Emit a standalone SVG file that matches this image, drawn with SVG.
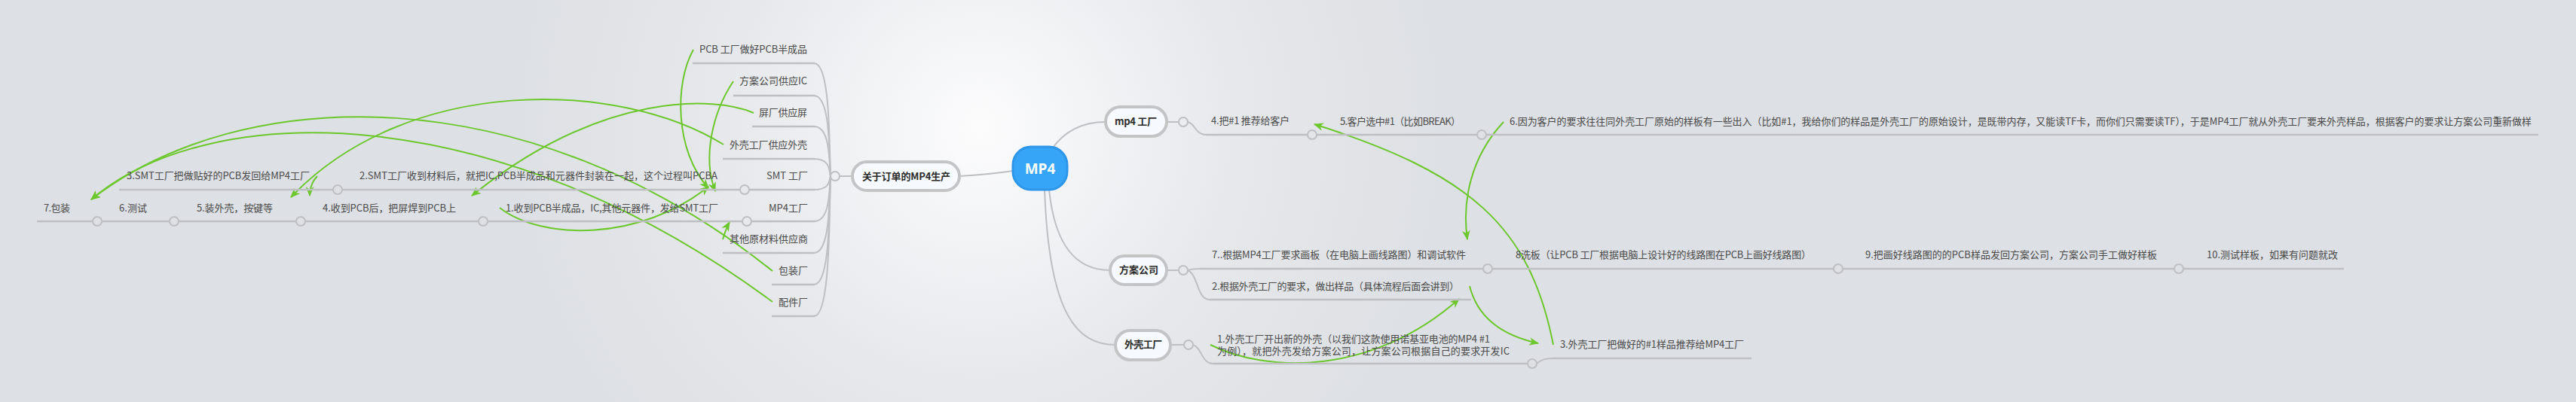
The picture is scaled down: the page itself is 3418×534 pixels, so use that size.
<svg xmlns="http://www.w3.org/2000/svg" width="3418" height="534" viewBox="0 0 3418 534">
<defs>
<radialGradient id="bg" gradientUnits="userSpaceOnUse" cx="1300" cy="170" r="620">
<stop offset="0" stop-color="#FCFCFD"/>
<stop offset="0.55" stop-color="#E6E8EB"/>
<stop offset="1" stop-color="#DDE0E4"/>
</radialGradient>
<marker id="arr" markerUnits="userSpaceOnUse" viewBox="0 0 12 10" markerWidth="13" markerHeight="11" refX="11" refY="5" orient="auto">
<path d="M0,0 L12,5 L0,10 L3.5,5 z" fill="#6CC72C"/>
</marker>
<style>
.t{font-family:"Noto Sans CJK SC","Noto Sans",sans-serif;font-size:13px;fill:#4A4A4A}
.b{font-family:"Noto Sans CJK SC","Noto Sans",sans-serif;font-size:13px;font-weight:bold;fill:#2B2B2B}
.ul{stroke:#BEBFC2;stroke-width:2.5;fill:none}
.br{stroke:#BEBFC2;stroke-width:2;fill:none}
.cc{stroke:#BEBFC2;stroke-width:2;fill:none}
.pill{fill:#F6F9FE;stroke:#C3C4C6;stroke-width:4}
.rel{stroke:#6CC72C;stroke-width:2;fill:none}
</style>
</defs>
<rect x="0" y="0" width="3418" height="534" fill="url(#bg)"/>

<g id="connectors">
<g id="branches">
<path class="br" d="M1273,234 Q1310,232 1344,227"/>
<path class="br" d="M1395,199 Q1420,162 1467,162"/>
<path class="br" d="M1392,252 C1400,330 1430,359 1473,359"/>
<path class="br" d="M1386,252 C1392,420 1430,458 1480,458"/>
<path class="br" d="M1114,234 L1131,234"/>
<path class="br" d="M1102,234 C1100,189 1102,84 1080,84"/>
<path class="br" d="M1102,234 C1100,202 1102,127 1080,127"/>
<path class="br" d="M1102,234 C1100,214 1102,168 1080,168"/>
<path class="br" d="M1102,234 C1100,227 1102,211 1080,211"/>
<path class="br" d="M1102,234 C1100,239 1102,252 1080,252"/>
<path class="br" d="M1102,234 C1100,252 1102,294 1080,294"/>
<path class="br" d="M1102,234 C1100,264 1102,336 1080,336"/>
<path class="br" d="M1102,234 C1100,278 1102,378 1080,378"/>
<path class="br" d="M1102,234 C1100,290 1102,420 1080,420"/>
<path class="br" d="M1548,162 L1564,162"/>
<path class="br" d="M1576,162 C1586,164 1586,179 1600,179"/>
<path class="br" d="M1548,359 L1564,359"/>
<path class="br" d="M1576,359 C1582,357 1585,357 1592,357"/>
<path class="br" d="M1576,359 C1590,365 1588,398 1605,398"/>
<path class="br" d="M1553,458 L1571,458"/>
<path class="br" d="M1583,458 C1595,462 1594,483 1610,483"/>
<path class="br" d="M2039,483 C2045,478 2050,476 2060,476"/>
</g>
<g id="relationships">
<path class="rel" marker-end="url(#arr)" d="M920,66 C895,110 895,200 940,250"/>
<path class="rel" marker-end="url(#arr)" d="M973,108 C945,150 932,210 949,254"/>
<path class="rel" marker-end="url(#arr)" d="M1000,150 C950,128 800,120 626,260"/>
<path class="rel" marker-end="url(#arr)" d="M960,192 C820,105 540,100 386,262"/>
<path class="rel" marker-end="url(#arr)" d="M1025,360 C700,100 320,110 121,265"/>
<path class="rel" marker-end="url(#arr)" d="M1025,401 C660,130 280,130 121,265"/>
<path class="rel" marker-end="url(#arr)" d="M663,276 C720,320 850,320 940,248"/>
<path class="rel" marker-end="url(#arr)" d="M959,318 C962,308 964,302 968,295"/>
<path class="rel" marker-end="url(#arr)" d="M421,234 C413,242 411,250 411,260"/>
<path class="rel" marker-end="url(#arr)" d="M1995,162 C1950,210 1940,270 1947,318"/>
<path class="rel" marker-end="url(#arr)" d="M2061,458 C2030,300 1950,230 1744,165"/>
<path class="rel" marker-end="url(#arr)" d="M1950,380 C1960,420 1990,445 2041,456"/>
<path class="rel" marker-end="url(#arr)" d="M1606,458 C1680,495 1820,500 1936,397"/>
</g>
</g>

<g id="n-mp4">
<rect x="1344" y="195" width="72" height="57" rx="24" fill="#36A5F8" stroke="#2C97EA" stroke-width="3"/>
<text x="1380" y="231" text-anchor="middle" font-family="'Noto Sans','DejaVu Sans',sans-serif" font-size="19" font-weight="bold" fill="#FFFFFF">MP4</text>
</g>
<g id="n-order">
<rect class="pill" x="1131" y="215" width="142" height="38" rx="19"/>
<text class="b" x="1144" y="239" font-size="14" textLength="117">关于订单的MP4生产</text>
<circle class="cc" cx="1108" cy="234" r="6"/>
</g>
<g id="n-pcb"><line class="ul" x1="919" y1="84" x2="1081" y2="84"/><text class="t" x="928" y="70" textLength="143">PCB 工厂做好PCB半成品</text></g>
<g id="n-fa-ic"><line class="ul" x1="973" y1="127" x2="1081" y2="127"/><text class="t" x="981" y="112" textLength="90">方案公司供应IC</text></g>
<g id="n-ping"><line class="ul" x1="998" y1="168" x2="1081" y2="168"/><text class="t" x="1007" y="154" textLength="64">屏厂供应屏</text></g>
<g id="n-waike-gy"><line class="ul" x1="959" y1="211" x2="1081" y2="211"/><text class="t" x="968" y="197" textLength="103">外壳工厂供应外壳</text></g>
<g id="n-smt"><line class="ul" x1="994" y1="252" x2="1081" y2="252"/><text class="t" x="1017" y="238" textLength="55">SMT 工厂</text><circle class="cc" cx="988" cy="252" r="6"/></g>
<g id="n-mp4f"><line class="ul" x1="997" y1="294" x2="1081" y2="294"/><text class="t" x="1020" y="281" textLength="52">MP4工厂</text><circle class="cc" cx="991" cy="294" r="6"/></g>
<g id="n-other"><line class="ul" x1="959" y1="336" x2="1081" y2="336"/><text class="t" x="968" y="322" textLength="104">其他原材料供应商</text></g>
<g id="n-bzc"><line class="ul" x1="1024" y1="378" x2="1081" y2="378"/><text class="t" x="1033" y="364" textLength="39">包装厂</text></g>
<g id="n-pjc"><line class="ul" x1="1024" y1="420" x2="1081" y2="420"/><text class="t" x="1033" y="406" textLength="39">配件厂</text></g>
<g id="n-smt2"><line class="ul" x1="454" y1="252" x2="982" y2="252"/><text class="t" x="477" y="238" textLength="475">2.SMT工厂收到材料后，就把IC,PCB半成品和元器件封装在一起，这个过程叫PCBA</text><circle class="cc" cx="448" cy="252" r="6"/></g>
<g id="n-smt3"><line class="ul" x1="158" y1="252" x2="442" y2="252"/><text class="t" x="168" y="238" textLength="243">3.SMT工厂把做贴好的PCB发回给MP4工厂</text></g>
<g id="n-s1"><line class="ul" x1="647" y1="294" x2="985" y2="294"/><text class="t" x="671" y="281" textLength="282">1.收到PCB半成品，IC,其他元器件，发给SMT工厂</text><circle class="cc" cx="641" cy="294" r="6"/></g>
<g id="n-s4"><line class="ul" x1="405" y1="294" x2="635" y2="294"/><text class="t" x="428" y="281" textLength="177">4.收到PCB后，把屏焊到PCB上</text><circle class="cc" cx="399" cy="294" r="6"/></g>
<g id="n-s5"><line class="ul" x1="237" y1="294" x2="393" y2="294"/><text class="t" x="261" y="281" textLength="101">5.装外壳，按键等</text><circle class="cc" cx="231" cy="294" r="6"/></g>
<g id="n-s6"><line class="ul" x1="135" y1="294" x2="225" y2="294"/><text class="t" x="158" y="281" textLength="37">6.测试</text><circle class="cc" cx="129" cy="294" r="6"/></g>
<g id="n-s7"><line class="ul" x1="49" y1="294" x2="123" y2="294"/><text class="t" x="58" y="281" textLength="35">7.包装</text></g>

<g id="n-mp4gc">
<rect class="pill" x="1467" y="142" width="81" height="39" rx="19.5"/>
<text class="b" x="1479" y="166" textLength="56">mp4 工厂</text>
<circle class="cc" cx="1570" cy="162" r="6"/>
</g>
<g id="n-a4"><line class="ul" x1="1600" y1="179" x2="1735" y2="179"/><text class="t" x="1607" y="165" textLength="104">4.把#1 推荐给客户</text><circle class="cc" cx="1741" cy="179" r="6"/></g>
<g id="n-a5"><line class="ul" x1="1747" y1="179" x2="1960" y2="179"/><text class="t" x="1778" y="166" textLength="160">5.客户选中#1（比如BREAK）</text><circle class="cc" cx="1966" cy="179" r="6"/></g>
<g id="n-a6"><line class="ul" x1="1972" y1="179" x2="3368" y2="179"/><text class="t" x="2003" y="166" textLength="1356">6.因为客户的要求往往同外壳工厂原始的样板有一些出入（比如#1，我给你们的样品是外壳工厂的原始设计，是既带内存，又能读TF卡，而你们只需要读TF），于是MP4工厂就从外壳工厂要来外壳样品，根据客户的要求让方案公司重新做样</text></g>

<g id="n-fagc">
<rect class="pill" x="1473" y="340" width="75" height="38" rx="19"/>
<text class="b" x="1485" y="363" textLength="52">方案公司</text>
<circle class="cc" cx="1570" cy="359" r="6"/>
</g>
<g id="n-b7"><line class="ul" x1="1592" y1="357" x2="1968" y2="357"/><text class="t" x="1608" y="343" textLength="337">7..根据MP4工厂要求画板（在电脑上画线路图）和调试软件</text><circle class="cc" cx="1974" cy="357" r="6"/></g>
<g id="n-b8"><line class="ul" x1="1980" y1="357" x2="2433" y2="357"/><text class="t" x="2011" y="343" textLength="392">8洗板（让PCB 工厂根据电脑上设计好的线路图在PCB上画好线路图）</text><circle class="cc" cx="2439" cy="357" r="6"/></g>
<g id="n-b9"><line class="ul" x1="2445" y1="357" x2="2885" y2="357"/><text class="t" x="2475" y="343" textLength="387">9.把画好线路图的的PCB样品发回方案公司，方案公司手工做好样板</text><circle class="cc" cx="2891" cy="357" r="6"/></g>
<g id="n-b10"><line class="ul" x1="2897" y1="357" x2="3110" y2="357"/><text class="t" x="2928" y="343">10.测试样板，如果有问题就改</text></g>
<g id="n-b2"><line class="ul" x1="1605" y1="398" x2="1952" y2="398"/><text class="t" x="1608" y="385" textLength="328">2.根据外壳工厂的要求，做出样品（具体流程后面会讲到）</text></g>

<g id="n-wkgc">
<rect class="pill" x="1480" y="439" width="73" height="39" rx="19.5"/>
<text class="b" x="1492" y="462" textLength="50">外壳工厂</text>
<circle class="cc" cx="1577" cy="458" r="6"/>
</g>
<g id="n-c1"><line class="ul" x1="1610" y1="483" x2="2027" y2="483"/>
<text class="t" x="1615" y="455" textLength="362">1.外壳工厂开出新的外壳（以我们这款使用诺基亚电池的MP4 #1</text>
<text class="t" x="1615" y="471" textLength="388">为例），就把外壳发给方案公司，让方案公司根据自己的要求开发IC</text>
<circle class="cc" cx="2033" cy="483" r="6"/></g>
<g id="n-c3"><line class="ul" x1="2060" y1="476" x2="2324" y2="476"/><text class="t" x="2070" y="462" textLength="244">3.外壳工厂把做好的#1样品推荐给MP4工厂</text></g>
</svg>
